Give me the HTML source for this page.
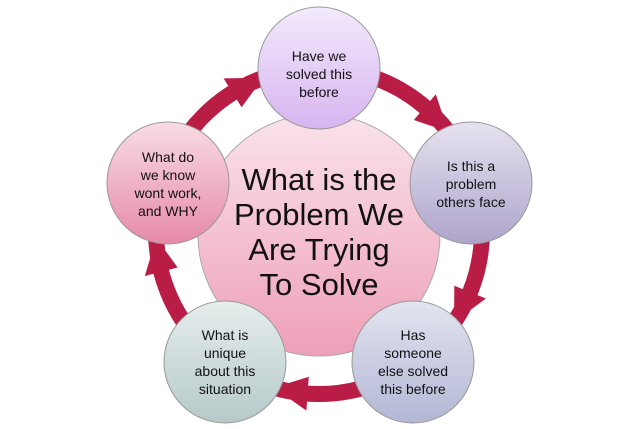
<!DOCTYPE html>
<html><head><meta charset="utf-8"><style>
html,body{margin:0;padding:0;background:#fff;}
svg{display:block;}
text{font-family:"Liberation Sans",sans-serif;fill:#111;text-anchor:middle;}
.s{font-size:14px;}
.b{font-size:31px;}
</style></head><body>
<svg width="639" height="429" viewBox="0 0 639 429">
<defs>
<linearGradient id="gc" x1="0" y1="0" x2="0" y2="1"><stop offset="0" stop-color="#fae3ea"/><stop offset="1" stop-color="#ee9fb8"/></linearGradient>
<linearGradient id="g1" x1="0" y1="0" x2="0" y2="1"><stop offset="0" stop-color="#f2eafc"/><stop offset="1" stop-color="#d8b4f0"/></linearGradient>
<linearGradient id="g2" x1="0" y1="0" x2="0" y2="1"><stop offset="0" stop-color="#e6e2f0"/><stop offset="1" stop-color="#aea4cb"/></linearGradient>
<linearGradient id="g3" x1="0" y1="0" x2="0" y2="1"><stop offset="0" stop-color="#e2e4ef"/><stop offset="1" stop-color="#b3b7d5"/></linearGradient>
<linearGradient id="g4" x1="0" y1="0" x2="0" y2="1"><stop offset="0" stop-color="#e6eded"/><stop offset="1" stop-color="#b6c9c9"/></linearGradient>
<linearGradient id="g5" x1="0" y1="0" x2="0" y2="1"><stop offset="0" stop-color="#f8dce4"/><stop offset="1" stop-color="#e68aa8"/></linearGradient>
</defs>
<circle cx="319" cy="231" r="163" fill="none" stroke="#b91c44" stroke-width="16"/>
<g fill="#b91c44">
<polygon points="263.3,77.8 241.6,107.2 223.6,78.4"/>
<polygon points="448.3,131.7 413.8,120.0 435.8,94.2"/>
<polygon points="454.1,322.1 454.3,285.7 485.9,298.5"/>
<polygon points="274.0,387.7 308.8,376.7 306.4,410.6"/>
<polygon points="156.2,238.1 177.7,267.5 144.8,276.0"/>
</g>
<circle cx="319" cy="235" r="121" fill="url(#gc)" stroke="#aaa" stroke-width="1"/>
<circle cx="319" cy="68" r="61" fill="url(#g1)" stroke="#999"/>
<circle cx="471" cy="183" r="61" fill="url(#g2)" stroke="#999"/>
<circle cx="413" cy="362" r="61" fill="url(#g3)" stroke="#999"/>
<circle cx="225" cy="362" r="61" fill="url(#g4)" stroke="#999"/>
<circle cx="168" cy="183" r="61" fill="url(#g5)" stroke="#999"/>
<g class="b">
<text x="319" y="190">What is the</text>
<text x="319" y="225">Problem We</text>
<text x="319" y="260">Are Trying</text>
<text x="319" y="295">To Solve</text>
</g>
<g class="s">
<text x="319" y="61">Have we</text><text x="319" y="79">solved this</text><text x="319" y="97">before</text>
<text x="471" y="171">Is this a</text><text x="471" y="189">problem</text><text x="471" y="207">others face</text>
<text x="413" y="340">Has</text><text x="413" y="358">someone</text><text x="413" y="376">else solved</text><text x="413" y="394">this before</text>
<text x="225" y="340">What is</text><text x="225" y="358">unique</text><text x="225" y="376">about this</text><text x="225" y="394">situation</text>
<text x="168" y="162">What do</text><text x="168" y="180">we know</text><text x="168" y="198">wont work,</text><text x="168" y="216">and WHY</text>
</g>
</svg>
</body></html>
